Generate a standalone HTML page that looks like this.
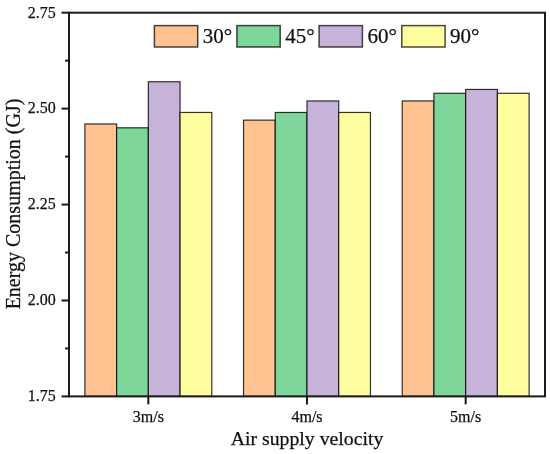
<!DOCTYPE html>
<html><head><meta charset="utf-8"><title>Energy Consumption</title><style>
html,body{margin:0;padding:0;background:#fff;width:550px;height:454px;overflow:hidden}
svg{display:block}
text{font-family:"Liberation Serif","Times New Roman",serif;fill:#111;stroke:#111;stroke-width:0.25px}
</style></head><body>
<svg width="550" height="454" viewBox="0 0 550 454">
<rect x="84.87" y="123.97" width="31.73" height="272.43" fill="#FFC291" stroke="#000" stroke-opacity="0.8" stroke-width="1.2"/>
<rect x="116.60" y="127.81" width="31.73" height="268.59" fill="#7FD69A" stroke="#000" stroke-opacity="0.8" stroke-width="1.2"/>
<rect x="148.33" y="81.77" width="31.73" height="314.63" fill="#C7B3D9" stroke="#000" stroke-opacity="0.8" stroke-width="1.2"/>
<rect x="180.07" y="112.46" width="31.73" height="283.94" fill="#FEFE9E" stroke="#000" stroke-opacity="0.8" stroke-width="1.2"/>
<rect x="243.53" y="120.14" width="31.73" height="276.26" fill="#FFC291" stroke="#000" stroke-opacity="0.8" stroke-width="1.2"/>
<rect x="275.27" y="112.46" width="31.73" height="283.94" fill="#7FD69A" stroke="#000" stroke-opacity="0.8" stroke-width="1.2"/>
<rect x="307.00" y="100.95" width="31.73" height="295.45" fill="#C7B3D9" stroke="#000" stroke-opacity="0.8" stroke-width="1.2"/>
<rect x="338.73" y="112.46" width="31.73" height="283.94" fill="#FEFE9E" stroke="#000" stroke-opacity="0.8" stroke-width="1.2"/>
<rect x="402.20" y="100.95" width="31.73" height="295.45" fill="#FFC291" stroke="#000" stroke-opacity="0.8" stroke-width="1.2"/>
<rect x="433.93" y="93.28" width="31.73" height="303.12" fill="#7FD69A" stroke="#000" stroke-opacity="0.8" stroke-width="1.2"/>
<rect x="465.67" y="89.44" width="31.73" height="306.96" fill="#C7B3D9" stroke="#000" stroke-opacity="0.8" stroke-width="1.2"/>
<rect x="497.40" y="93.28" width="31.73" height="303.12" fill="#FEFE9E" stroke="#000" stroke-opacity="0.8" stroke-width="1.2"/>
<rect x="69" y="12.7" width="476" height="383.7" fill="none" stroke="#1a1a1a" stroke-width="2"/>
<line x1="61.5" y1="396.4" x2="69" y2="396.4" stroke="#1a1a1a" stroke-width="2"/>
<text x="55.7" y="401.2" font-size="16" text-anchor="end">1.75</text>
<line x1="61.5" y1="300.47499999999997" x2="69" y2="300.47499999999997" stroke="#1a1a1a" stroke-width="2"/>
<text x="55.7" y="305.3" font-size="16" text-anchor="end">2.00</text>
<line x1="61.5" y1="204.54999999999998" x2="69" y2="204.54999999999998" stroke="#1a1a1a" stroke-width="2"/>
<text x="55.7" y="209.3" font-size="16" text-anchor="end">2.25</text>
<line x1="61.5" y1="108.625" x2="69" y2="108.625" stroke="#1a1a1a" stroke-width="2"/>
<text x="55.7" y="113.4" font-size="16" text-anchor="end">2.50</text>
<line x1="61.5" y1="12.699999999999989" x2="69" y2="12.699999999999989" stroke="#1a1a1a" stroke-width="2"/>
<text x="55.7" y="17.5" font-size="16" text-anchor="end">2.75</text>
<line x1="65" y1="348.4375" x2="69" y2="348.4375" stroke="#1a1a1a" stroke-width="2"/>
<line x1="65" y1="252.5125" x2="69" y2="252.5125" stroke="#1a1a1a" stroke-width="2"/>
<line x1="65" y1="156.58749999999998" x2="69" y2="156.58749999999998" stroke="#1a1a1a" stroke-width="2"/>
<line x1="65" y1="60.662499999999966" x2="69" y2="60.662499999999966" stroke="#1a1a1a" stroke-width="2"/>
<line x1="148.33" y1="396.4" x2="148.33" y2="404.4" stroke="#1a1a1a" stroke-width="2"/>
<text x="148.33" y="421.6" font-size="16" text-anchor="middle">3m/s</text>
<line x1="307.00" y1="396.4" x2="307.00" y2="404.4" stroke="#1a1a1a" stroke-width="2"/>
<text x="307.00" y="421.6" font-size="16" text-anchor="middle">4m/s</text>
<line x1="465.67" y1="396.4" x2="465.67" y2="404.4" stroke="#1a1a1a" stroke-width="2"/>
<text x="465.67" y="421.6" font-size="16" text-anchor="middle">5m/s</text>
<text x="307" y="444.8" font-size="19.8" text-anchor="middle">Air supply velocity</text>
<text transform="translate(19.5,204) rotate(-90)" font-size="20" text-anchor="middle">Energy Consumption (GJ)</text>
<rect x="154.4" y="25.6" width="43.3" height="21.4" fill="#FFC291" stroke="#000" stroke-opacity="0.72" stroke-width="1.5"/>
<text x="202.7" y="43.2" font-size="21">30°</text>
<rect x="236.9" y="25.6" width="43.3" height="21.4" fill="#7FD69A" stroke="#000" stroke-opacity="0.72" stroke-width="1.5"/>
<text x="285.2" y="43.2" font-size="21">45°</text>
<rect x="319.09999999999997" y="25.6" width="43.3" height="21.4" fill="#C7B3D9" stroke="#000" stroke-opacity="0.72" stroke-width="1.5"/>
<text x="367.4" y="43.2" font-size="21">60°</text>
<rect x="401.79999999999995" y="25.6" width="43.3" height="21.4" fill="#FEFE9E" stroke="#000" stroke-opacity="0.72" stroke-width="1.5"/>
<text x="450.09999999999997" y="43.2" font-size="21">90°</text>
</svg></body></html>
